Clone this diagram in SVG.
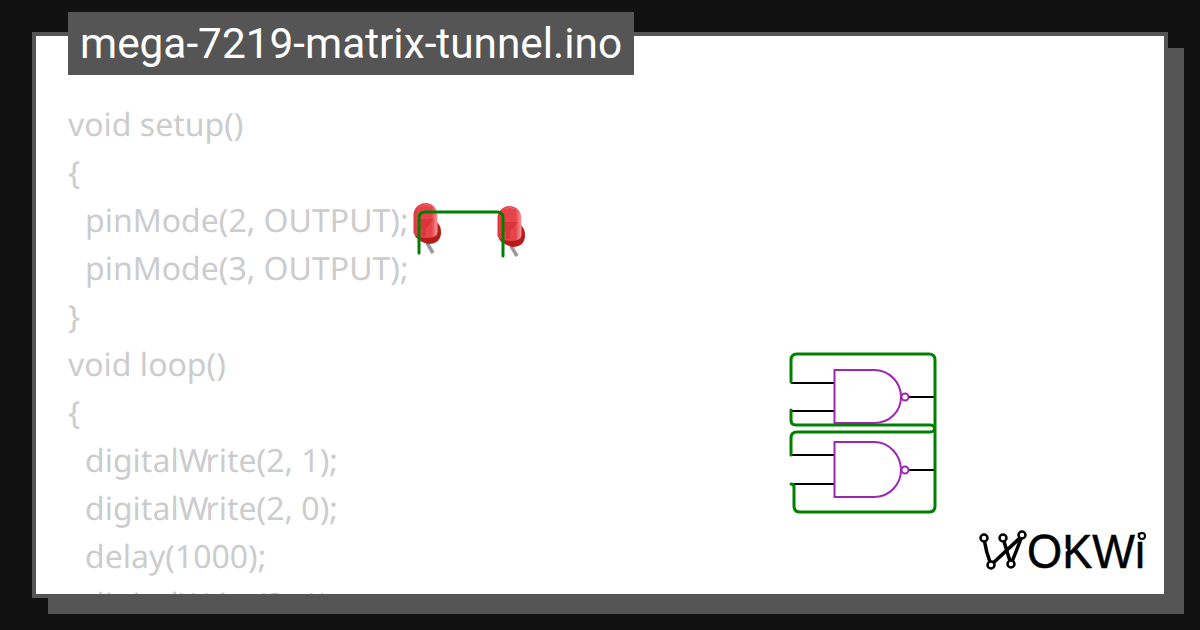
<svg xmlns="http://www.w3.org/2000/svg" width="1200" height="630" viewBox="0 0 1200 630">
<style>
.code{font-family:"Noto Sans","Open Sans",sans-serif;font-size:32px;fill:#ccc;text-rendering:geometricPrecision;opacity:.999}
.wire{fill:none;stroke:#008000;stroke-width:3;stroke-linecap:round;stroke-linejoin:round}
.pin{fill:none;stroke:#000;stroke-width:2}
.gate{fill:#fff;stroke:#9c27b0;stroke-width:2}
.leg{fill:none;stroke:#999;stroke-width:3.5}
</style>
<defs>
<clipPath id="card"><rect x="36" y="36" width="1128" height="558"/></clipPath>
<linearGradient id="dome" x1="0" x2="1" y1="0" y2="0"><stop offset="0" stop-color="#d9363a"/><stop offset=".15" stop-color="#e8434a"/><stop offset=".75" stop-color="#e8434a"/><stop offset="1" stop-color="#f49a9a"/></linearGradient>
<g id="led-shape">
<path class="leg" d="M427 243L433 253"/>
<path d="M415 232V236Q418 241 428 244Q441 244 441 232Q441 226 437 222Z" fill="#b71c1c"/>
<path d="M413.500 215A12 12 0 0 1 437.500 215V232Q437.500 238 426 238Q414 237 413.500 233Z" fill="url(#dome)"/>
<path d="M418 207Q426 202 434 207Q430 205 426 205Q422 205 418 207Z" fill="#f8b0b0"/>
<path d="M419 219H434L426 229V236H422V229H419Z" fill="#c62828" opacity=".45"/>
</g>
</defs>
<rect width="1200" height="630" fill="#111"/>
<rect x="48" y="48" width="1136" height="566" fill="#555"/>
<rect x="34" y="34" width="1132" height="562" fill="#fff" stroke="#555" stroke-width="4"/>
<g clip-path="url(#card)" class="code">
<text x="68" y="136">void setup()</text>
<text x="68" y="184">{</text>
<text x="85" y="232">pinMode(2, OUTPUT);</text>
<text x="85" y="280">pinMode(3, OUTPUT);</text>
<text x="68" y="328">}</text>
<text x="68" y="376">void loop()</text>
<text x="68" y="424">{</text>
<text x="85" y="472">digitalW<tspan dx="-2.6">rite(2, 1);</tspan></text>
<text x="85" y="520">digitalW<tspan dx="-2.6">rite(2, 0);</tspan></text>
<text x="85" y="568">delay(1000);</text>
<text x="85" y="616">digitalW<tspan dx="-2.6">rite(3, 1);</tspan></text>
</g>
<g id="title">
<rect x="68" y="12" width="566" height="63" fill="#555"/>
<text x="80" y="58" font-family="Roboto,sans-serif" font-size="42.35" fill="#fff">mega-7219-matrix-tunnel.ino</text>
</g>
<g id="led1"><use href="#led-shape"/></g>
<g id="led2"><use href="#led-shape" x="84" y="3"/></g>
<g id="nand1">
<path class="pin" d="M791 383H834M791 411H834M909 397H934"/>
<path class="gate" d="M834.500 370H874C890 370 901 383 901 397C901 411 890 423 874 423H834.500Z"/>
<circle class="gate" cx="905" cy="397" r="3.5"/>
</g>
<g id="nand2">
<path class="pin" d="M791 455H834M794 484H834M909 470H934"/>
<path class="gate" d="M834.500 442H874C890 442 901 456 901 470C901 484 890 497 874 497H834.500Z"/>
<circle class="gate" cx="905" cy="470" r="3.5"/>
</g>
<g id="connectors">
<path class="wire" d="M419 253V218Q419 212 425 212H497Q503 212 503 218V256"/>
<path class="wire" d="M791 382V360Q791 354 797 354H929Q935 354 935 360V506Q935 512 929 512H800Q794 512 794 506V487Q794 484 791 484"/>
<path class="wire" d="M791 410V420Q791 425 796 425H930C936 425 936 432 930 432H797Q791 432 791 438V455"/>
</g>
<g id="logo">
<path d="M984 539Q986 552 991 565L1022 536M1003 538Q1007 552 1011 564Q1016 552 1022 536" fill="none" stroke="#000" stroke-width="3.5" stroke-linecap="round" stroke-linejoin="round"/>
<g fill="#fff" stroke="#000" stroke-width="2.5"><circle cx="984" cy="538" r="3.5"/><circle cx="1003" cy="538" r="3.5"/><circle cx="1022" cy="535" r="3.5"/><circle cx="991" cy="565" r="3.5"/><circle cx="1011" cy="564" r="3.5"/></g>
<text x="1027" y="568" font-family="'Liberation Sans',sans-serif" font-size="48" fill="#000" stroke="#000" stroke-width="0.5" textLength="118" lengthAdjust="spacingAndGlyphs">OKWi</text>
<circle cx="1142" cy="536" r="3" fill="#fff" stroke="#000" stroke-width="2"/>
<circle cx="1066" cy="550" r="1.5" fill="#fff"/>
</g>
</svg>
